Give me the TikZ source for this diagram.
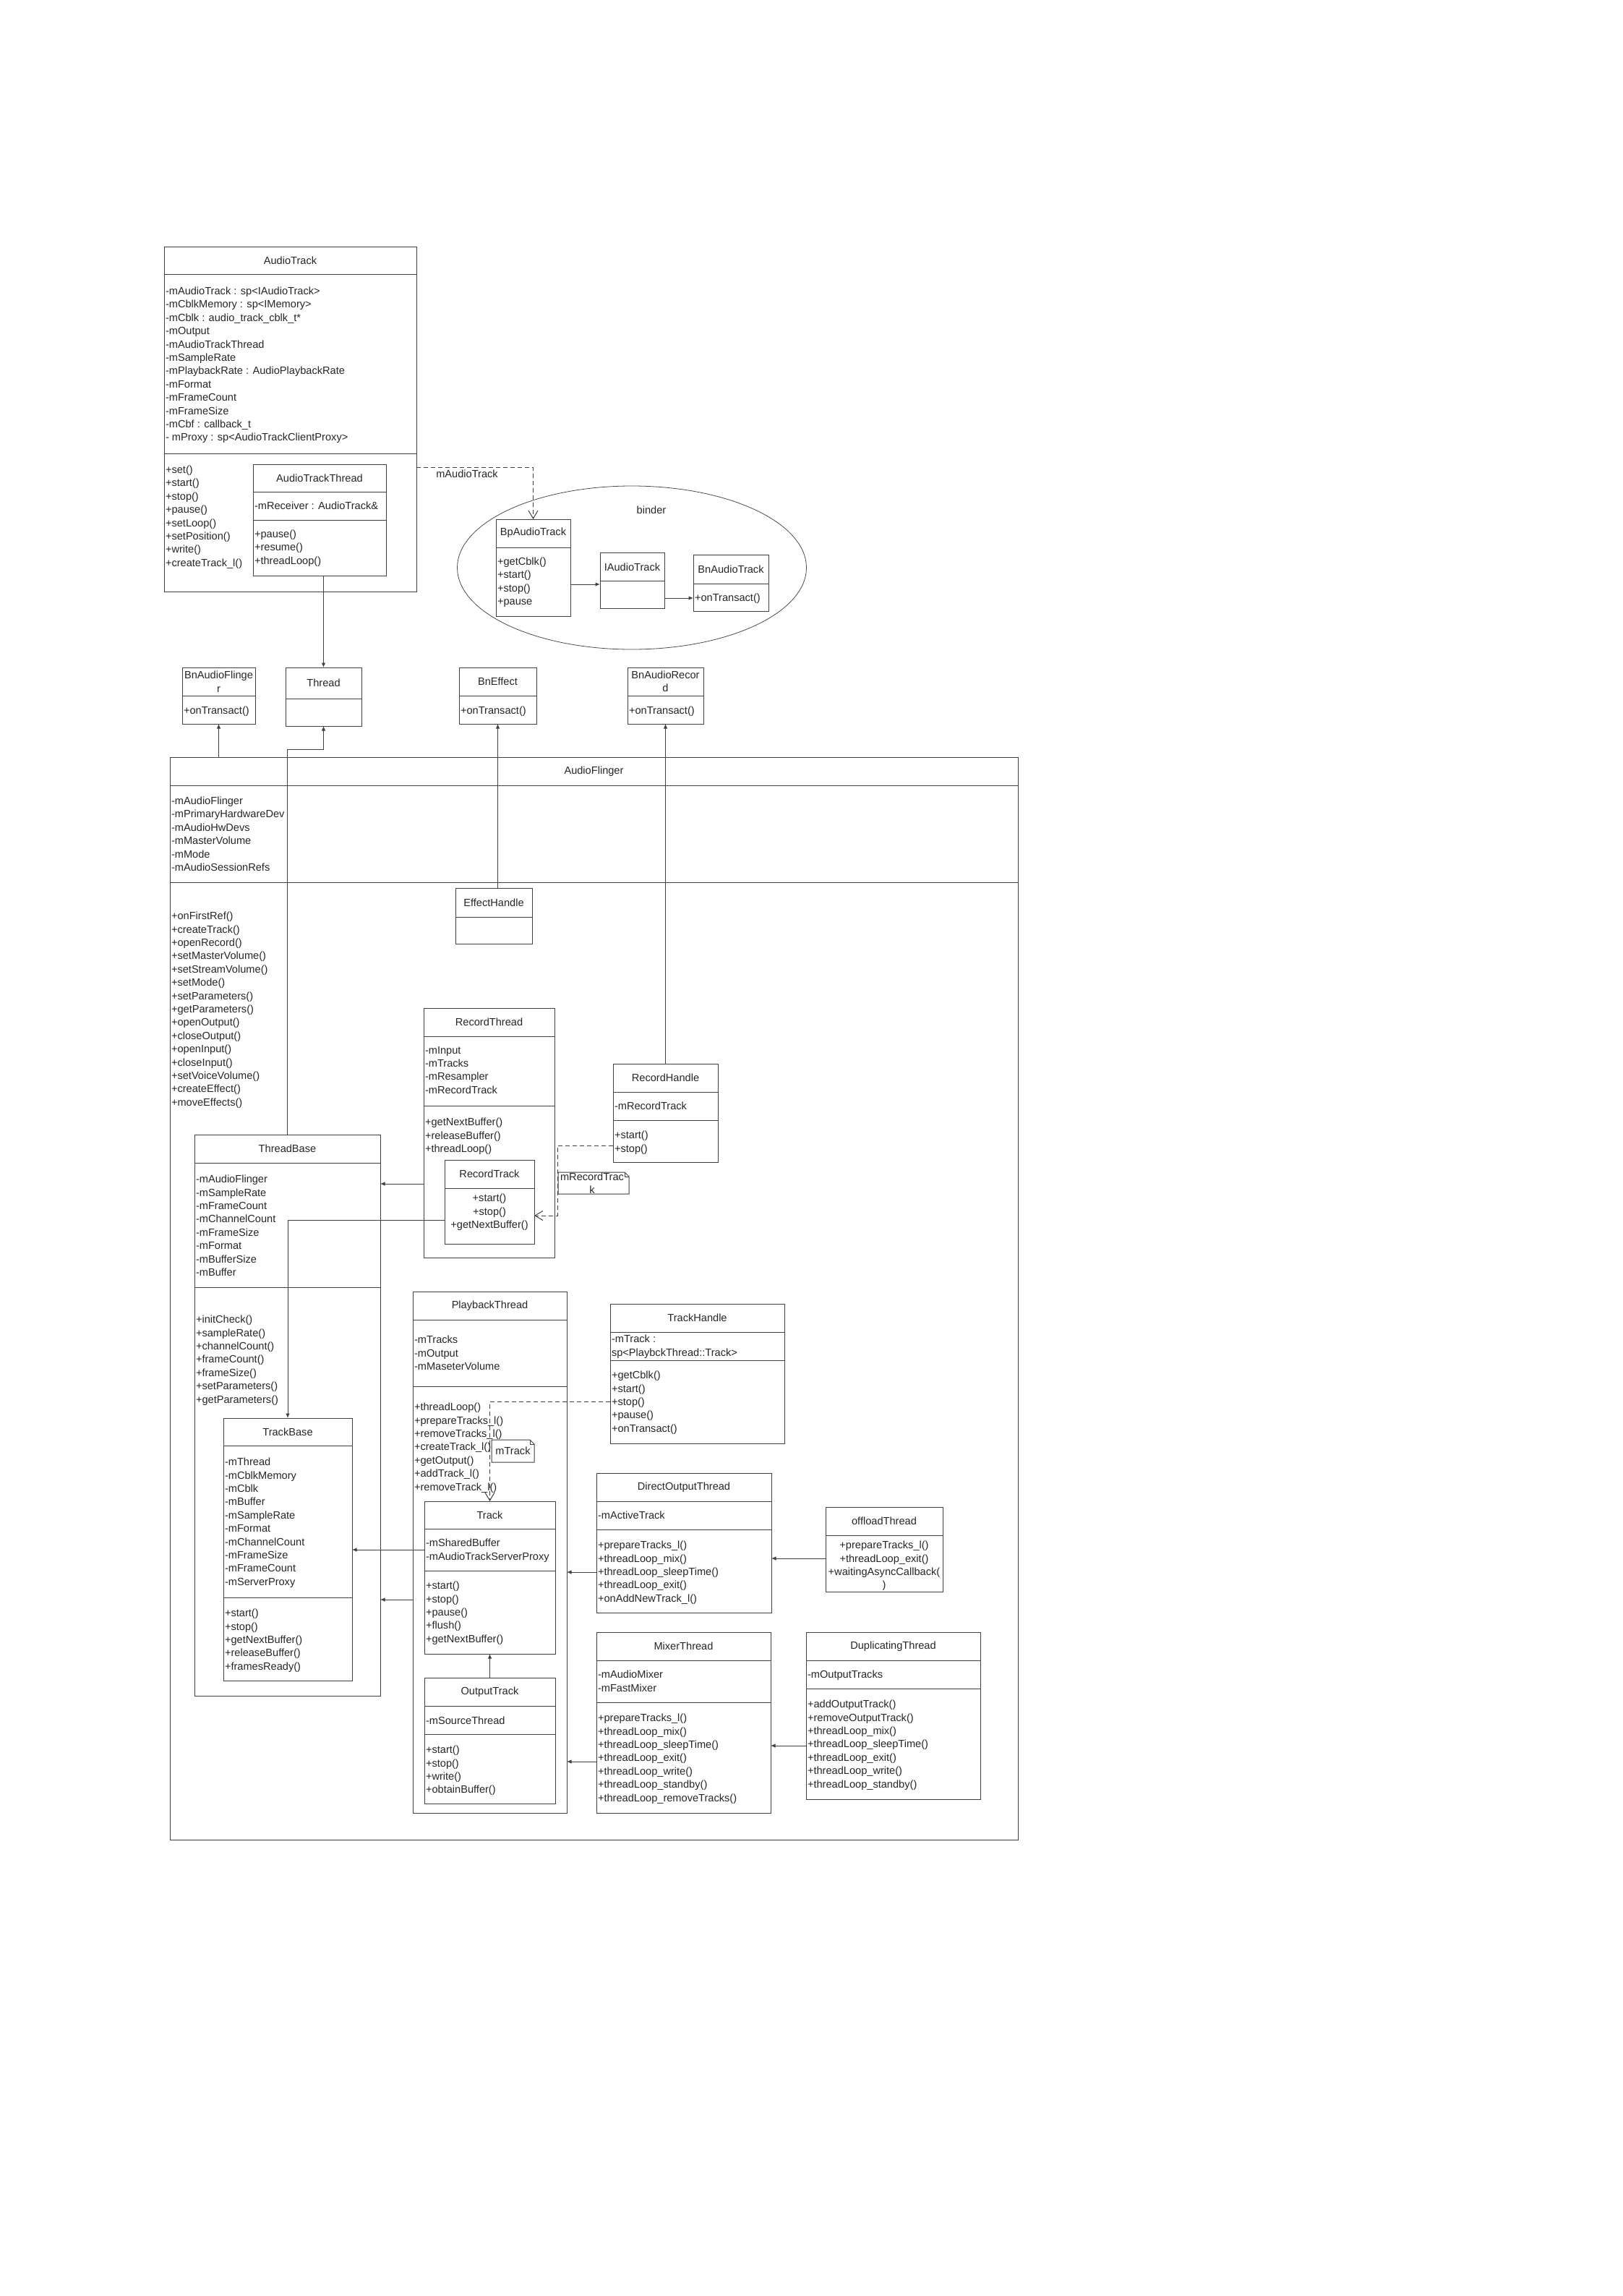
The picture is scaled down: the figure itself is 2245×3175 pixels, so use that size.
\documentclass[tikz,border=0pt]{standalone}
\usepackage{fontspec}
\setmainfont{Liberation Sans}
\usetikzlibrary{arrows.meta,shapes.geometric}
\newcommand{\umlfont}{\fontsize{14.6}{18.4}\selectfont}
\begin{document}
\begin{tikzpicture}[x=1pt, y=-1pt,
    every node/.style={font=\umlfont, text=black!85, inner sep=0pt, outer sep=0pt},
    classbox/.style={draw=black!75, line width=1pt, anchor=north west},
    heading/.style={align=center},
    members/.style={anchor=north west, align=left},
    centred/.style={anchor=north, align=center},
    divider/.style={draw=black!75, line width=1pt},
    assoc/.style={draw=black!75, line width=1pt, -{Latex[length=6.5pt,width=5.5pt]}},
    uses/.style={draw=black!75, line width=1pt, dash pattern=on 6pt off 4pt, -{Straight Barb[length=11pt,width=13pt]}}]
  \fill[white] (0,0) rectangle (2245,3175);
  \useasboundingbox (0,0) rectangle (2245,3175);

  \node[classbox, minimum width=349, minimum height=477] (audio_track) at (227,341) {};
  \draw[divider] (audio_track.west |- 0,379) -- (audio_track.east |- 0,379);
  \draw[divider] (audio_track.west |- 0,627) -- (audio_track.east |- 0,627);
  \node[heading] (audio_track_title) at (401.5,360) {AudioTrack};
  \node[members] (audio_track_attrs) at (229,397) {-mAudioTrack : sp<IAudioTrack>\\-mCblkMemory : sp<IMemory>\\-mCblk : audio\_track\_cblk\_t*\\-mOutput\\-mAudioTrackThread\\-mSampleRate\\-mPlaybackRate : AudioPlaybackRate\\-mFormat\\-mFrameCount\\-mFrameSize\\-mCbf : callback\_t\\- mProxy : sp<AudioTrackClientProxy>};
  \node[members] (audio_track_ops) at (229,644) {+set()\\+start()\\+stop()\\+pause()\\+setLoop()\\+setPosition()\\+write()\\+createTrack\_l()};

  \node[classbox, minimum width=184, minimum height=154] (audio_track_thread) at (350,642) {};
  \draw[divider] (audio_track_thread.west |- 0,680) -- (audio_track_thread.east |- 0,680);
  \draw[divider] (audio_track_thread.west |- 0,719) -- (audio_track_thread.east |- 0,719);
  \node[heading] (audio_track_thread_title) at (442,661) {AudioTrackThread};
  \node[members] (audio_track_thread_attrs) at (352,694) {-mReceiver : AudioTrack\&};
  \node[members] (audio_track_thread_ops) at (352,733) {+pause()\\+resume()\\+threadLoop()};

  \node[draw=black!70, line width=0.8pt, ellipse, minimum width=483, minimum height=226] (binder) at (874,785) {};
  \node (binder_label) at (901,705) {binder};

  \node[classbox, minimum width=103, minimum height=134] (bp_audio_track) at (686,718) {};
  \draw[divider] (bp_audio_track.west |- 0,757) -- (bp_audio_track.east |- 0,757);
  \node[heading] (bp_audio_track_title) at (737.5,737) {BpAudioTrack};
  \node[members] (bp_audio_track_ops) at (688,771) {+getCblk()\\+start()\\+stop()\\+pause};

  \node[classbox, minimum width=89, minimum height=77] (i_audio_track) at (830,764) {};
  \draw[divider] (i_audio_track.west |- 0,803) -- (i_audio_track.east |- 0,803);
  \node[heading] (i_audio_track_title) at (874.5,784) {IAudioTrack};

  \node[classbox, minimum width=104, minimum height=78] (bn_audio_track) at (959,767) {};
  \draw[divider] (bn_audio_track.west |- 0,807) -- (bn_audio_track.east |- 0,807);
  \node[heading] (bn_audio_track_title) at (1011,787) {BnAudioTrack};
  \node[members] (bn_audio_track_ops) at (961,821) {+onTransact()};

  \node[classbox, minimum width=101, minimum height=78] (bn_audio_flinger) at (252,923) {};
  \draw[divider] (bn_audio_flinger.west |- 0,962) -- (bn_audio_flinger.east |- 0,962);
  \node[heading] (bn_audio_flinger_title) at (302.5,942.5) {BnAudioFlinge\\r};
  \node[members] (bn_audio_flinger_ops) at (254,977) {+onTransact()};

  \node[classbox, minimum width=105, minimum height=81] (thread) at (395,923) {};
  \draw[divider] (thread.west |- 0,966) -- (thread.east |- 0,966);
  \node[heading] (thread_title) at (447.5,944.5) {Thread};

  \node[classbox, minimum width=107, minimum height=78] (bn_effect) at (635,923) {};
  \draw[divider] (bn_effect.west |- 0,962) -- (bn_effect.east |- 0,962);
  \node[heading] (bn_effect_title) at (688.5,942.5) {BnEffect};
  \node[members] (bn_effect_ops) at (637,977) {+onTransact()};

  \node[classbox, minimum width=105, minimum height=78] (bn_audio_record) at (868,923) {};
  \draw[divider] (bn_audio_record.west |- 0,962) -- (bn_audio_record.east |- 0,962);
  \node[heading] (bn_audio_record_title) at (920.5,942.5) {BnAudioRecor\\d};
  \node[members] (bn_audio_record_ops) at (870,977) {+onTransact()};

  \node[classbox, minimum width=1173, minimum height=1497] (audio_flinger) at (235,1047) {};
  \draw[divider] (audio_flinger.west |- 0,1086) -- (audio_flinger.east |- 0,1086);
  \draw[divider] (audio_flinger.west |- 0,1220) -- (audio_flinger.east |- 0,1220);
  \node[heading] (audio_flinger_title) at (821.5,1066.5) {AudioFlinger};
  \node[members] (audio_flinger_attrs) at (237,1102) {-mAudioFlinger\\-mPrimaryHardwareDev\\-mAudioHwDevs\\-mMasterVolume\\-mMode\\-mAudioSessionRefs};
  \node[members] (audio_flinger_ops) at (237,1261) {+onFirstRef()\\+createTrack()\\+openRecord()\\+setMasterVolume()\\+setStreamVolume()\\+setMode()\\+setParameters()\\+getParameters()\\+openOutput()\\+closeOutput()\\+openInput()\\+closeInput()\\+setVoiceVolume()\\+createEffect()\\+moveEffects()};

  \node[classbox, minimum width=106, minimum height=77] (effect_handle) at (630,1228) {};
  \draw[divider] (effect_handle.west |- 0,1268) -- (effect_handle.east |- 0,1268);
  \node[heading] (effect_handle_title) at (683,1248) {EffectHandle};

  \node[classbox, minimum width=181, minimum height=345] (record_thread) at (586,1394) {};
  \draw[divider] (record_thread.west |- 0,1433) -- (record_thread.east |- 0,1433);
  \draw[divider] (record_thread.west |- 0,1529) -- (record_thread.east |- 0,1529);
  \node[heading] (record_thread_title) at (676.5,1413.5) {RecordThread};
  \node[members] (record_thread_attrs) at (588,1447) {-mInput\\-mTracks\\-mResampler\\-mRecordTrack};
  \node[members] (record_thread_ops) at (588,1546) {+getNextBuffer()\\+releaseBuffer()\\+threadLoop()};

  \node[classbox, minimum width=124, minimum height=116] (record_track) at (615,1604) {};
  \draw[divider] (record_track.west |- 0,1643) -- (record_track.east |- 0,1643);
  \node[heading] (record_track_title) at (677,1623.5) {RecordTrack};
  \node[centred] (record_track_ops) at (677,1651) {+start()\\+stop()\\+getNextBuffer()};

  \node[classbox, minimum width=145, minimum height=136] (record_handle) at (848,1471) {};
  \draw[divider] (record_handle.west |- 0,1510) -- (record_handle.east |- 0,1510);
  \draw[divider] (record_handle.west |- 0,1549) -- (record_handle.east |- 0,1549);
  \node[heading] (record_handle_title) at (920.5,1490.5) {RecordHandle};
  \node[members] (record_handle_attrs) at (850,1524) {-mRecordTrack};
  \node[members] (record_handle_ops) at (850,1564) {+start()\\+stop()};

  \draw[divider] (772,1621) -- (864,1621) -- (870,1627) -- (870,1651) -- (772,1651) -- cycle;
  \draw[divider] (864,1621) -- (864,1627) -- (870,1627);
  \node[heading] (record_track_note) at (819,1636) {mRecordTrac\\k};

  \node[classbox, minimum width=257, minimum height=776] (thread_base) at (269,1569) {};
  \draw[divider] (thread_base.west |- 0,1608) -- (thread_base.east |- 0,1608);
  \draw[divider] (thread_base.west |- 0,1780) -- (thread_base.east |- 0,1780);
  \node[heading] (thread_base_title) at (397.5,1588.5) {ThreadBase};
  \node[members] (thread_base_attrs) at (271,1625) {-mAudioFlinger\\-mSampleRate\\-mFrameCount\\-mChannelCount\\-mFrameSize\\-mFormat\\-mBufferSize\\-mBuffer};
  \node[members] (thread_base_ops) at (271,1819) {+initCheck()\\+sampleRate()\\+channelCount()\\+frameCount()\\+frameSize()\\+setParameters()\\+getParameters()};

  \node[classbox, minimum width=178, minimum height=363] (track_base) at (309,1961) {};
  \draw[divider] (track_base.west |- 0,1999) -- (track_base.east |- 0,1999);
  \draw[divider] (track_base.west |- 0,2209) -- (track_base.east |- 0,2209);
  \node[heading] (track_base_title) at (398,1980) {TrackBase};
  \node[members] (track_base_attrs) at (311,2016) {-mThread\\-mCblkMemory\\-mCblk\\-mBuffer\\-mSampleRate\\-mFormat\\-mChannelCount\\-mFrameSize\\-mFrameCount\\-mServerProxy};
  \node[members] (track_base_ops) at (311,2225) {+start()\\+stop()\\+getNextBuffer()\\+releaseBuffer()\\+framesReady()};

  \node[classbox, minimum width=213, minimum height=721] (playback_thread) at (571,1786) {};
  \draw[divider] (playback_thread.west |- 0,1825) -- (playback_thread.east |- 0,1825);
  \draw[divider] (playback_thread.west |- 0,1917) -- (playback_thread.east |- 0,1917);
  \node[heading] (playback_thread_title) at (677.5,1805.5) {PlaybackThread};
  \node[members] (playback_thread_attrs) at (573,1847) {-mTracks\\-mOutput\\-mMaseterVolume};
  \node[members] (playback_thread_ops) at (573,1940) {+threadLoop()\\+prepareTracks\_l()\\+removeTracks\_l()\\+createTrack\_l()\\+getOutput()\\+addTrack\_l()\\+removeTrack\_l()};

  \node[classbox, minimum width=241, minimum height=193] (track_handle) at (844,1803) {};
  \draw[divider] (track_handle.west |- 0,1842) -- (track_handle.east |- 0,1842);
  \draw[divider] (track_handle.west |- 0,1881) -- (track_handle.east |- 0,1881);
  \node[heading] (track_handle_title) at (964.5,1822.5) {TrackHandle};
  \node[members] (track_handle_attrs) at (846,1846) {-mTrack :\\sp<PlaybckThread::Track>};
  \node[members] (track_handle_ops) at (846,1896) {+getCblk()\\+start()\\+stop()\\+pause()\\+onTransact()};

  \draw[divider] (680,1991) -- (733,1991) -- (739,1997) -- (739,2022) -- (680,2022) -- cycle;
  \draw[divider] (733,1991) -- (733,1997) -- (739,1997);
  \node[heading] (track_note) at (709.5,2006.5) {mTrack};

  \node[classbox, minimum width=181, minimum height=211] (track) at (587,2076) {};
  \draw[divider] (track.west |- 0,2114) -- (track.east |- 0,2114);
  \draw[divider] (track.west |- 0,2172) -- (track.east |- 0,2172);
  \node[heading] (track_title) at (677.5,2095) {Track};
  \node[members] (track_attrs) at (589,2128) {-mSharedBuffer\\-mAudioTrackServerProxy};
  \node[members] (track_ops) at (589,2187) {+start()\\+stop()\\+pause()\\+flush()\\+getNextBuffer()};

  \node[classbox, minimum width=181, minimum height=174] (output_track) at (587,2320) {};
  \draw[divider] (output_track.west |- 0,2359) -- (output_track.east |- 0,2359);
  \draw[divider] (output_track.west |- 0,2398) -- (output_track.east |- 0,2398);
  \node[heading] (output_track_title) at (677.5,2339.5) {OutputTrack};
  \node[members] (output_track_attrs) at (589,2374) {-mSourceThread};
  \node[members] (output_track_ops) at (589,2414) {+start()\\+stop()\\+write()\\+obtainBuffer()};

  \node[classbox, minimum width=242, minimum height=193] (direct_output_thread) at (825,2037) {};
  \draw[divider] (direct_output_thread.west |- 0,2076) -- (direct_output_thread.east |- 0,2076);
  \draw[divider] (direct_output_thread.west |- 0,2115) -- (direct_output_thread.east |- 0,2115);
  \node[heading] (direct_output_thread_title) at (946,2056.5) {DirectOutputThread};
  \node[members] (direct_output_thread_attrs) at (827,2090) {-mActiveTrack};
  \node[members] (direct_output_thread_ops) at (827,2131) {+prepareTracks\_l()\\+threadLoop\_mix()\\+threadLoop\_sleepTime()\\+threadLoop\_exit()\\+onAddNewTrack\_l()};

  \node[classbox, minimum width=162, minimum height=117] (offload_thread) at (1142,2084) {};
  \draw[divider] (offload_thread.west |- 0,2123) -- (offload_thread.east |- 0,2123);
  \node[heading] (offload_thread_title) at (1223,2103.5) {offloadThread};
  \node[centred] (offload_thread_ops) at (1223,2131) {+prepareTracks\_l()\\+threadLoop\_exit()\\+waitingAsyncCallback(\\)};

  \node[classbox, minimum width=241, minimum height=250] (mixer_thread) at (825,2257) {};
  \draw[divider] (mixer_thread.west |- 0,2296) -- (mixer_thread.east |- 0,2296);
  \draw[divider] (mixer_thread.west |- 0,2354) -- (mixer_thread.east |- 0,2354);
  \node[heading] (mixer_thread_title) at (945.5,2276.5) {MixerThread};
  \node[members] (mixer_thread_attrs) at (827,2310) {-mAudioMixer\\-mFastMixer};
  \node[members] (mixer_thread_ops) at (827,2370) {+prepareTracks\_l()\\+threadLoop\_mix()\\+threadLoop\_sleepTime()\\+threadLoop\_exit()\\+threadLoop\_write()\\+threadLoop\_standby()\\+threadLoop\_removeTracks()};

  \node[classbox, minimum width=241, minimum height=231] (duplicating_thread) at (1115,2257) {};
  \draw[divider] (duplicating_thread.west |- 0,2296) -- (duplicating_thread.east |- 0,2296);
  \draw[divider] (duplicating_thread.west |- 0,2335) -- (duplicating_thread.east |- 0,2335);
  \node[heading] (duplicating_thread_title) at (1235.5,2276.5) {DuplicatingThread};
  \node[members] (duplicating_thread_attrs) at (1117,2310) {-mOutputTracks};
  \node[members] (duplicating_thread_ops) at (1117,2351) {+addOutputTrack()\\+removeOutputTrack()\\+threadLoop\_mix()\\+threadLoop\_sleepTime()\\+threadLoop\_exit()\\+threadLoop\_write()\\+threadLoop\_standby()};

  \coordinate (record_bend) at (771,1681);
  \node (m_audio_track_label) at (646,655) {mAudioTrack};

  \draw[assoc] (audio_track_thread.south -| thread.north) -- (thread.north);
  \draw[assoc] (audio_flinger.north -| bn_audio_flinger.south) -- (bn_audio_flinger.south);
  \draw[assoc] (thread_base.north) |- ([yshift=-32pt]thread.south) -- (thread.south);
  \draw[assoc] (effect_handle.north -| bn_effect.south) -- (bn_effect.south);
  \draw[assoc] (record_handle.north) -- (bn_audio_record.south);
  \draw[assoc] (record_thread.west |- 0,1637) -- (thread_base.east |- 0,1637);
  \draw[assoc] (record_track.west |- 0,1687) -| (track_base.north);
  \draw[assoc] (playback_thread.west |- 0,2212) -- (thread_base.east |- 0,2212);
  \draw[assoc] (track.west |- 0,2143) -- (track_base.east |- 0,2143);
  \draw[assoc] (output_track.north) -- (track.south);
  \draw[assoc] (direct_output_thread.west |- 0,2174) -- (playback_thread.east |- 0,2174);
  \draw[assoc] (mixer_thread.west |- 0,2436) -- (playback_thread.east |- 0,2436);
  \draw[assoc] (offload_thread.west |- 0,2155) -- (direct_output_thread.east |- 0,2155);
  \draw[assoc] (duplicating_thread.west |- 0,2414) -- (mixer_thread.east |- 0,2414);
  \draw[assoc] (bp_audio_track.east |- 0,808) -- (i_audio_track.west |- 0,808);
  \draw[assoc] (i_audio_track.east |- 0,827) -- (bn_audio_track.west |- 0,827);
  \draw[uses] (audio_track.east |- 0,646) -| (bp_audio_track.north);
  \draw[uses] (record_handle.west |- 0,1584) -| (record_bend) -- (record_track.east |- record_bend);
  \draw[uses] (track_handle.west |- 0,1938) -| (track.north);
\end{tikzpicture}
\end{document}
